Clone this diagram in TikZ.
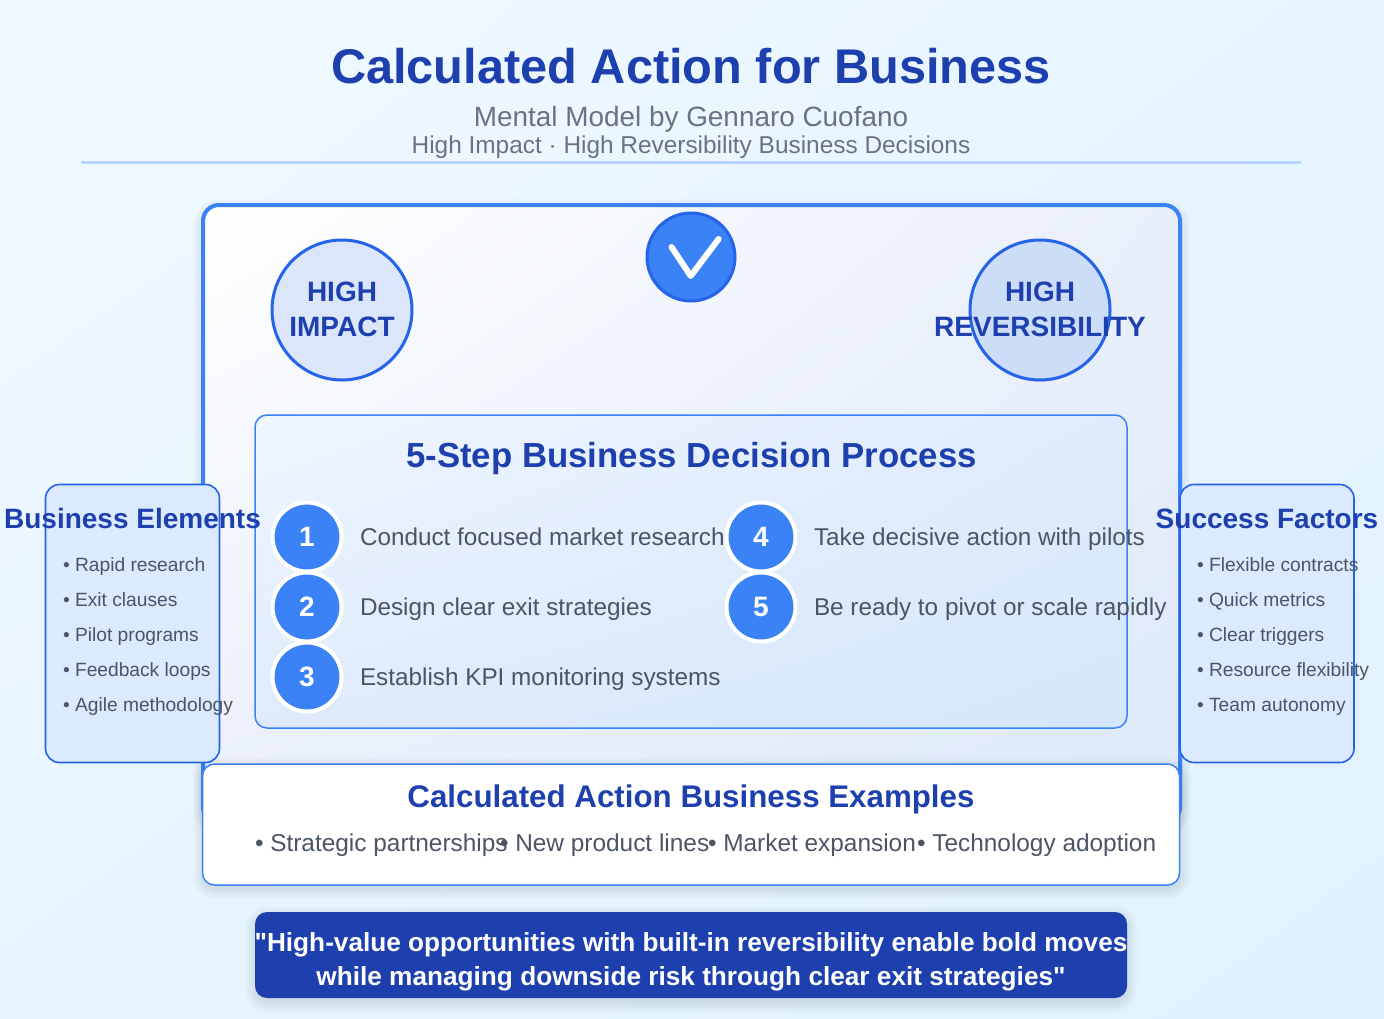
\documentclass[tikz,border=0pt]{standalone}
\usepackage{fontspec}
\usetikzlibrary{shadings}
\setmainfont{Liberation Sans}
\newfontfamily\quotefont{Liberation Sans}
\definecolor{navy}{HTML}{1E40AF}
\definecolor{bluea}{HTML}{3B82F6}
\definecolor{blueb}{HTML}{2563EB}
\definecolor{greyt}{HTML}{6B7280}
\definecolor{greyd}{HTML}{4B5563}
\definecolor{pale}{HTML}{DBEAFE}
\definecolor{bgtl}{HTML}{F0F9FF}
\definecolor{bgmid}{HTML}{E8F5FF}
\definecolor{bgbr}{HTML}{E0F2FE}
\definecolor{mainmid}{HTML}{E9EFFA}
\definecolor{mainbr}{HTML}{DCE9F8}
\definecolor{proctl}{HTML}{EFF6FF}
\definecolor{procmid}{HTML}{DFEBFC}
\definecolor{procbr}{HTML}{D5E6FB}
\definecolor{impfill}{HTML}{DBE6FA}
\definecolor{revfill}{HTML}{CCDDF8}
\definecolor{rulec}{HTML}{B8D5FD}
\newcommand{\fsz}[1]{\fontsize{#1}{#1}\selectfont}
\newcommand{\softshadow}[5]{\foreach \i in {0,2,4,6,8,10} \fill[black,fill opacity=0.016,rounded corners=#5+\i] ({#1-\i},{#2-\i+4}) rectangle ({#3+\i},{#4+\i+4});}
\tikzset{
  x=1pt,y=-1pt,
  txt/.style={inner sep=0pt,outer sep=0pt,anchor=base},
  txtl/.style={inner sep=0pt,outer sep=0pt,anchor=base west},
  panel/.style={rectangle,inner sep=0pt,outer sep=0pt,draw=blueb,line width=1.6pt,fill=pale,rounded corners=14pt,minimum width=174pt,minimum height=278pt},
  paneltitle/.style={txt,font=\bfseries\fsz{28},text=navy},
  panelitem/.style={txtl,font=\fsz{19.2},text=greyd},
  stepnum/.style={circle,inner sep=0pt,outer sep=0pt,draw=white,line width=4pt,fill=bluea,minimum size=69pt,text=white,font=\bfseries\fsz{28}},
  steptext/.style={txtl,font=\fsz{24.3},text=greyd},
  hicircle/.style={circle,inner sep=0pt,outer sep=0pt,draw=blueb,line width=3pt,minimum size=140pt},
  hitext/.style={txt,font=\bfseries\fsz{28},text=navy},
  extext/.style={txtl,font=\fsz{24.4},text=greyd},
  quotetext/.style={txt,font=\quotefont\bfseries\fsz{26.2},text=white},
}
\begin{document}
\begin{tikzpicture}
\useasboundingbox (0,0) rectangle (1384,1018);
% background
\node[rectangle,inner sep=0pt,outer sep=0pt,minimum width=1384pt,minimum height=1018pt,shade,upper left=bgtl,upper right=bgmid,lower left=bgmid,lower right=bgbr] (bg) at (692,509) {};
% header
\node[txt,font=\bfseries\fsz{48.7},text=navy] (title) at (691,83) {Calculated Action for Business};
\node[txt,font=\fsz{27.9},text=greyt] (sub1) at (691,126) {Mental Model by Gennaro Cuofano};
\node[txt,font=\fsz{24.4},text=greyt] (sub2) at (691,153) {High Impact · High Reversibility Business Decisions};
\coordinate (rulel) at (81,162.5);
\coordinate (ruler) at (1301,162.5);
\draw[line width=3.5pt,draw=rulec] (rulel) -- (ruler);
% main panel
\softshadow{203}{205}{1180}{823}{16}
\node[rectangle,inner sep=0pt,outer sep=0pt,draw=bluea,line width=4pt,rounded corners=16pt,minimum width=977pt,minimum height=618pt,shade,upper left=white,upper right=mainmid,lower left=mainmid,lower right=mainbr] (main) at (691.5,514) {};
% check
\node[circle,inner sep=0pt,outer sep=0pt,draw=blueb,line width=3pt,fill=bluea,minimum size=88pt] (check) at (691,257) {};
\draw[white,line width=6pt,line cap=round,line join=round] (671.5,247) -- (690.7,276) -- (718.6,239);
% high circles
\node[hicircle,fill=impfill] (impact) at (342,310) {};
\node[hitext] (impact1) at (342,301) {HIGH};
\node[hitext] (impact2) at (342,336) {IMPACT};
\node[hicircle,fill=revfill] (rev) at (1040,310) {};
\node[hitext] (rev1) at (1040,301) {HIGH};
\node[hitext] (rev2) at (1040,336) {REVERSIBILITY};
% process
\node[rectangle,inner sep=0pt,outer sep=0pt,draw=bluea,line width=1.5pt,rounded corners=12pt,minimum width=872pt,minimum height=313pt,shade,upper left=proctl,upper right=procmid,lower left=procmid,lower right=procbr] (proc) at (691,571.5) {};
\node[txt,font=\bfseries\fsz{34.8},text=navy] (proctitle) at (691.5,467) {5-Step Business Decision Process};
\node[stepnum] (n1) at (307,537) {\raisebox{-1.5pt}{1}};
\node[stepnum] (n2) at (307,607) {2};
\node[stepnum] (n3) at (307,677) {\raisebox{-1pt}{3}};
\node[stepnum] (n4) at (761,537) {\raisebox{-1.5pt}{4}};
\node[stepnum] (n5) at (761,607) {5};
\node[steptext] (s1) at (360,545) {Conduct focused market research};
\node[steptext] (s2) at (360,615) {Design clear exit strategies};
\node[steptext] (s3) at (360,685) {Establish KPI monitoring systems};
\node[steptext] (s4) at (814,545) {Take decisive action with pilots};
\node[steptext] (s5) at (814,615) {Be ready to pivot or scale rapidly};
% left panel
\node[panel] (left) at (132.5,623.5) {};
\node[paneltitle] (lefttitle) at (132.5,528) {Business Elements};
\node[panelitem] (l1) at (63,571) {• Rapid research};
\node[panelitem] (l2) at (63,606) {• Exit clauses};
\node[panelitem] (l3) at (63,641) {• Pilot programs};
\node[panelitem] (l4) at (63,676) {• Feedback loops};
\node[panelitem] (l5) at (63,711) {• Agile methodology};
% right panel
\node[panel] (right) at (1267,623.5) {};
\node[paneltitle] (righttitle) at (1267,528) {Success Factors};
\node[panelitem] (r1) at (1197,571) {• Flexible contracts};
\node[panelitem] (r2) at (1197,606) {• Quick metrics};
\node[panelitem] (r3) at (1197,641) {• Clear triggers};
\node[panelitem] (r4) at (1197,676) {• Resource flexibility};
\node[panelitem] (r5) at (1197,711) {• Team autonomy};
% examples
\softshadow{203}{764}{1180}{885}{12}
\node[rectangle,inner sep=0pt,outer sep=0pt,draw=bluea,line width=1.5pt,fill=white,rounded corners=12pt,minimum width=977pt,minimum height=121pt] (ex) at (691,824.5) {};
\node[txt,font=\bfseries\fsz{31.3},text=navy] (extitle) at (691,807) {Calculated Action Business Examples};
\node[extext] (e1) at (255,851) {• Strategic partnerships};
\node[extext] (e2) at (500,851) {• New product lines};
\node[extext] (e3) at (708,851) {• Market expansion};
\node[extext] (e4) at (917,851) {• Technology adoption};
% quote
\softshadow{255}{912}{1127}{998}{12}
\node[rectangle,inner sep=0pt,outer sep=0pt,fill=navy,rounded corners=12pt,minimum width=872pt,minimum height=86pt] (quote) at (691,955) {};
\node[quotetext] (q1) at (691,951) {"High-value opportunities with built-in reversibility enable bold moves};
\node[quotetext] (q2) at (691,985) {while managing downside risk through clear exit strategies"};
\end{tikzpicture}
\end{document}
